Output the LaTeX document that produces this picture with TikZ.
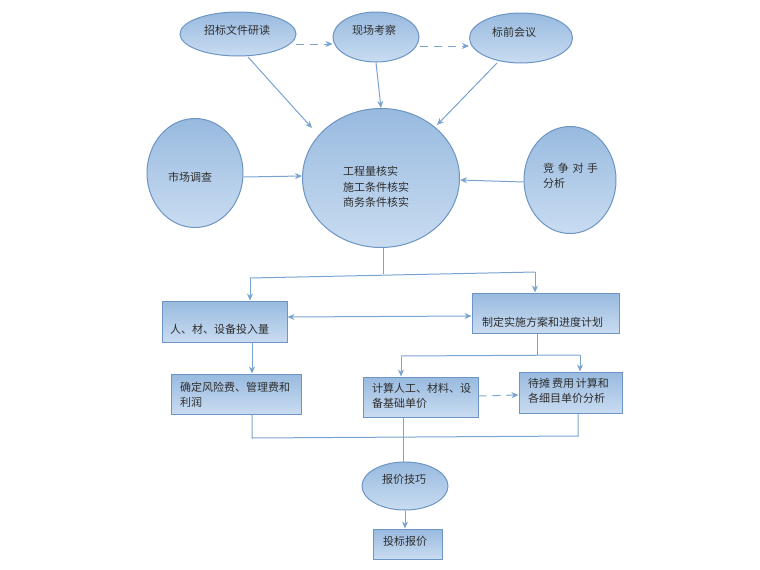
\documentclass[tikz,border=0pt]{standalone}
\usepackage{fontspec}
\setmainfont{Noto Sans CJK SC}
\usetikzlibrary{shapes.geometric,arrows.meta}
\definecolor{bordc}{HTML}{6C95C4}
\definecolor{linec}{HTML}{7AA4D0}
\definecolor{topc}{HTML}{98BADF}
\definecolor{botc}{HTML}{C9DCF1}
\definecolor{txtc}{HTML}{2E2E2E}
\tikzset{
  shp/.style={draw=bordc, line width=1pt, top color=topc, bottom color=botc, inner sep=0pt},
  ell/.style={shp, ellipse},
  boxn/.style={shp, rectangle},
  txt/.style={text=txtc, font=\fontsize{11}{15.5}\selectfont, align=left, inner sep=0pt, anchor=west},
  conn/.style={draw=linec, line width=1pt},
  arr/.style={conn, -{Stealth[length=7pt,width=6pt]}},
  darr/.style={conn, {Stealth[length=7pt,width=6pt]}-{Stealth[length=7pt,width=6pt]}},
  dash arr/.style={arr, dash pattern=on 8pt off 6pt},
}
\begin{document}
\begin{tikzpicture}[x=1pt,y=-1pt]
\path[use as bounding box, fill=white] (0,0) rectangle (760,570);
% shapes
\node[ell, minimum width=116, minimum height=44] (zb) at (238,34) {};
\node[ell, minimum width=86, minimum height=50] (xc) at (376,37) {};
\node[ell, minimum width=103, minimum height=50] (bq) at (521,38) {};
\node[ell, minimum width=157, minimum height=139] (hs) at (381,178) {};
\node[ell, minimum width=96, minimum height=109] (sc) at (195,173) {};
\node[ell, minimum width=92, minimum height=107] (jz) at (570,180) {};
\node[boxn, minimum width=125, minimum height=41] (rc) at (224.5,321.5) {};
\node[boxn, minimum width=147, minimum height=40] (zd) at (545.5,313) {};
\node[boxn, minimum width=130, minimum height=40] (qd) at (236,394) {};
\node[boxn, minimum width=115, minimum height=40] (js) at (420.5,397) {};
\node[boxn, minimum width=103, minimum height=41] (dt) at (570.5,392.5) {};
\node[ell, minimum width=86, minimum height=48] (bj) at (405,486) {};
\node[boxn, minimum width=69, minimum height=30] (tb) at (407.5,544) {};
% texts
\node[txt] (tzb) at (204,30) {招标文件研读};
\node[txt] (txc) at (352,30) {现场考察};
\node[txt] (tbq) at (492,32) {标前会议};
\node[txt] (ths) at (343,187) {工程量核实\\施工条件核实\\商务条件核实};
\node[txt] (tsc) at (168,177) {市场调查};
\node[txt] (tjz) at (543,176) {竞\,\,争\,\,对\,\,手\\分析};
\node[txt] (trc) at (170,329) {人、材、设备投入量};
\node[txt] (tzd) at (482,322) {制定实施方案和进度计划};
\node[txt] (tqd) at (180,395) {确定风险费、管理费和\\利润};
\node[txt] (tjs) at (372,396) {计算人工、材料、设\\备基础单价};
\node[txt] (tdt) at (528,391) {待摊\,费用\,计算和\\各细目单价分析};
\node[txt] (tbj) at (382,479) {报价技巧};
\node[txt] (ttb) at (383,541) {投标报价};
% coordinates
\coordinate (h1) at (383,274);
\coordinate (hl) at (250,278);
\coordinate (hr) at (535,272);
\coordinate (m1) at (537,355);
\coordinate (ml) at (401,356);
\coordinate (mr) at (580,355);
\coordinate (bl) at (252,438);
\coordinate (br) at (578,436);
% connectors
\draw[dash arr] (296,44) -- (xc.west |- 0,44);
\draw[dash arr] (xc.east |- 0,46) -- (469,46);
\draw[arr] (248,57) -- (312,128);
\draw[arr] (xc.south) -- (hs.north);
\draw[arr] (497,63) -- (437,125);
\draw[arr] (sc.east |- 0,177) -- (hs.west |- 0,176);
\draw[arr] (jz.west |- 0,182) -- (hs.east |- 0,180);
\draw[conn] (hs.south -| h1) -- (h1);
\draw[conn] (hl) -- (hr);
\draw[arr] (hl) -- (rc.north -| hl);
\draw[arr] (hr) -- (zd.north -| hr);
\draw[darr] (rc.east |- 0,317) -- (zd.west |- 0,316);
\draw[arr] (rc.south -| 252,0) -- (qd.north -| 252,0);
\draw[conn] (zd.south -| m1) -- (m1);
\draw[conn] (ml) -- (mr);
\draw[arr] (ml) -- (js.north -| ml);
\draw[arr] (mr) -- (dt.north -| mr);
\draw[dash arr] (js.east |- 0,396) -- (dt.west |- 0,395);
\draw[conn] (qd.south -| bl) -- (bl) -- (br) -- (dt.south -| br);
\draw[conn] (js.south -| 403,0) -- (bj.north -| 403,0);
\draw[arr] (bj.south) -- (tb.north -| bj.south);
\end{tikzpicture}
\end{document}
